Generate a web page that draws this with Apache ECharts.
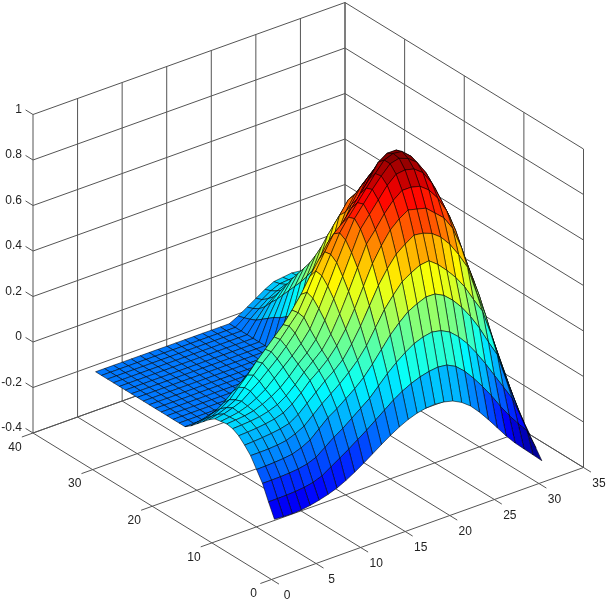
<!DOCTYPE html>
<html><head><meta charset="utf-8">
<style>html,body{margin:0;padding:0;background:#fff}#c{width:609px;height:602px}</style>
<script src="https://cdn.jsdelivr.net/npm/echarts@6/dist/echarts.min.js"></script>
</head><body><div id="c"></div>
<script>
const xTicks=[0,5,10,15,20,25,30,35];
const yTicks=[0,10,20,30,40];
const zTicks=[-0.4,-0.2,0,0.2,0.4,0.6,0.8,1];
const zY01=[-.165,-.168,-.169,-.167,-.161,-.152,-.141,-.127,-.108,-.085,-.06,-.033,-.006,.02,.043,.062,.076,.084,.087,.083,.073,.053,.023,-.018,-.065,-.115,-.165,-.21,-.25,-.29,-.33];
const zY02=[-.105,-.105,-.104,-.102,-.098,-.09,-.075,-.05,-.025,0,.028,.055,.085,.115,.145,.17,.19,.205,.215,.22,.215,.195,.16,.115,.065,.01,-.05,-.105,-.155,-.2,-.29];
const zY03=[-.04,-.04,-.039,-.037,-.033,-.025,-.01,.02,.05,.075,.105,.135,.165,.205,.245,.28,.31,.335,.35,.358,.35,.33,.295,.25,.195,.135,.07,.005,-.06,-.155,-.25];
const zY04=[.005,.006,.008,.011,.016,.03,.05,.085,.12,.145,.175,.205,.24,.285,.335,.385,.425,.46,.48,.496,.495,.475,.44,.395,.34,.275,.2,.13,.005,-.105,-.21];
const zY05=[.05,.05,.051,.054,.06,.075,.095,.13,.165,.195,.225,.26,.3,.35,.415,.48,.53,.575,.6,.62,.625,.595,.555,.51,.455,.385,.32,.2,.07,-.05,-.165];
const zY06=[.08,.082,.085,.089,.095,.105,.13,.165,.2,.235,.265,.3,.355,.42,.495,.57,.63,.68,.71,.736,.73,.715,.685,.64,.58,.51,.385,.275,.135,.01,-.115];
const zY07=[.105,.107,.11,.115,.122,.135,.16,.195,.235,.265,.3,.345,.405,.48,.565,.65,.715,.77,.805,.83,.82,.81,.775,.74,.68,.58,.455,.34,.195,.065,-.065];
const zY08=[.12,.122,.125,.13,.14,.155,.18,.215,.255,.29,.325,.38,.455,.54,.63,.72,.77,.825,.87,.9,.9,.89,.86,.81,.74,.64,.51,.395,.25,.115,-.02];
const zY09=[.125,.128,.132,.14,.155,.175,.2,.235,.275,.31,.355,.425,.505,.59,.68,.77,.82,.87,.92,.955,.96,.95,.92,.86,.775,.685,.555,.44,.295,.16,.023];
const zY10=[.12,.125,.132,.145,.165,.19,.225,.26,.295,.335,.385,.46,.545,.635,.72,.8,.85,.9,.945,.985,.995,.98,.95,.89,.81,.715,.595,.475,.33,.195,.055];
const zY11=[.115,.122,.135,.15,.18,.21,.245,.28,.32,.365,.42,.49,.575,.655,.735,.79,.84,.89,.94,.985,1,.995,.96,.9,.82,.73,.625,.495,.35,.215,.075];
const zY12=[.095,.105,.12,.14,.18,.22,.26,.295,.335,.38,.425,.5,.58,.65,.715,.75,.8,.85,.9,.96,.985,.985,.955,.9,.83,.736,.62,.496,.358,.22,.083];
const zY13=[.07,.08,.1,.125,.165,.205,.25,.29,.33,.37,.42,.475,.54,.6,.66,.69,.74,.78,.84,.9,.94,.945,.92,.87,.805,.71,.6,.48,.35,.215,.087];
const zY14=[.045,.055,.07,.095,.13,.16,.195,.23,.265,.3,.34,.385,.43,.48,.525,.6,.66,.73,.78,.85,.89,.9,.87,.825,.77,.68,.575,.46,.335,.205,.084];
const zY15=[.02,.028,.038,.05,.07,.09,.11,.125,.145,.165,.19,.215,.24,.27,.31,.37,.52,.66,.74,.8,.84,.85,.82,.77,.715,.63,.53,.425,.31,.19,.077];
const zY16=[0,0,0,0,0,0,0,0,0,0,0,0,0,0,0,0,.37,.6,.69,.75,.79,.8,.77,.72,.65,.57,.48,.385,.28,.17,.062];
const zY17=[0,0,0,0,0,0,0,0,0,0,0,0,0,0,0,0,.31,.525,.66,.715,.735,.72,.68,.63,.565,.495,.415,.335,.245,.145,.043];
const zY18=[0,0,0,0,0,0,0,0,0,0,0,0,0,0,0,0,.27,.48,.6,.65,.655,.635,.59,.54,.48,.42,.35,.285,.205,.115,.02];
const zY19=[0,0,0,0,0,0,0,0,0,0,0,0,0,0,0,0,.24,.43,.54,.58,.575,.545,.505,.455,.405,.355,.3,.24,.165,.085,-.006];
const zY20=[0,0,0,0,0,0,0,0,0,0,0,0,0,0,0,0,.215,.385,.475,.5,.49,.46,.425,.38,.345,.3,.26,.205,.135,.055,-.033];
const zY21=[0,0,0,0,0,0,0,0,0,0,0,0,0,0,0,0,.19,.34,.42,.425,.42,.385,.355,.325,.3,.265,.225,.175,.105,.028,-.06];
const zY22=[0,0,0,0,0,0,0,0,0,0,0,0,0,0,0,0,.165,.3,.37,.38,.365,.335,.31,.29,.265,.235,.195,.145,.075,0,-.085];
const zY23=[0,0,0,0,0,0,0,0,0,0,0,0,0,0,0,0,.145,.265,.33,.335,.32,.295,.275,.255,.235,.2,.165,.12,.05,-.025,-.108];
const zY24=[0,0,0,0,0,0,0,0,0,0,0,0,0,0,0,0,.125,.23,.29,.295,.28,.26,.235,.215,.195,.165,.13,.085,.02,-.05,-.127];
const zY25=[0,0,0,0,0,0,0,0,0,0,0,0,0,0,0,0,.11,.195,.25,.26,.245,.225,.2,.18,.16,.13,.095,.05,-.01,-.075,-.141];
const zY26=[0,0,0,0,0,0,0,0,0,0,0,0,0,0,0,0,.09,.16,.205,.22,.21,.19,.175,.155,.135,.105,.075,.03,-.025,-.09,-.152];
const zY27=[0,0,0,0,0,0,0,0,0,0,0,0,0,0,0,0,.07,.13,.165,.18,.18,.165,.155,.14,.122,.095,.06,.016,-.033,-.098,-.161];
const zY28=[0,0,0,0,0,0,0,0,0,0,0,0,0,0,0,0,.05,.095,.125,.14,.15,.145,.14,.13,.115,.089,.054,.011,-.037,-.102,-.167];
const zY29=[0,0,0,0,0,0,0,0,0,0,0,0,0,0,0,0,.038,.07,.1,.12,.135,.132,.132,.125,.11,.085,.051,.008,-.039,-.104,-.169];
const zY30=[0,0,0,0,0,0,0,0,0,0,0,0,0,0,0,0,.028,.055,.08,.105,.122,.125,.128,.122,.107,.082,.05,.006,-.04,-.105,-.168];
const zY31=[0,0,0,0,0,0,0,0,0,0,0,0,0,0,0,0,.02,.045,.07,.095,.115,.12,.125,.12,.105,.08,.05,.005,-.04,-.105,-.165];
const zRows=[zY01,zY02,zY03,zY04,zY05,zY06,zY07,zY08,zY09,zY10,zY11,zY12,zY13,zY14,zY15,zY16,zY17,zY18,zY19,zY20,zY21,zY22,zY23,zY24,zY25,zY26,zY27,zY28,zY29,zY30,zY31];

// orthographic view of the 3D box, mapped onto the hidden pixel axes
const view={ox:271.5,oy:579.5,xx:312/35,xy:-112/35,yx:-238.5/40,yy:-146.5/40,zy:-227.5,zBase:-0.4};
function project(x,y,z){return [view.ox+x*view.xx+y*view.yx, view.oy+x*view.xy+y*view.yy+(z-view.zBase)*view.zy];}

const zAll=zRows.flat(),zMin=Math.min(...zAll),zMax=Math.max(...zAll);
function jet(z){
  const idx=Math.min(63,Math.floor((z-zMin)/(zMax-zMin)*64)),t=(idx+.5)/64;
  const c=v=>Math.round(255*Math.max(0,Math.min(1,v)));
  return 'rgb('+c(1.5-Math.abs(4*t-3))+','+c(1.5-Math.abs(4*t-2))+','+c(1.5-Math.abs(4*t-1))+')';
}
// back-to-front cell list for the painter's order
const cells=[];
for(let i=zRows[0].length-2;i>=0;i--)for(let j=zRows.length-2;j>=0;j--)cells.push([i,j,zRows[j][i]]);

// box lines: [x1,y1,z1,x2,y2,z2]
const tick=1.25,boxLines=[],zl=zTicks[0],zh=zTicks[zTicks.length-1],xh=xTicks[xTicks.length-1],yh=yTicks[yTicks.length-1];
xTicks.forEach(x=>{boxLines.push([x,-tick,zl,x,yh,zl]);boxLines.push([x,yh,zl,x,yh,zh]);});
yTicks.forEach(y=>{boxLines.push([-tick,y,zl,xh,y,zl]);boxLines.push([xh,y,zl,xh,y,zh]);});
zTicks.forEach(z=>{boxLines.push([0,yh,z,xh,yh,z]);boxLines.push([0,yh,z,0,yh+tick,z]);boxLines.push([xh,yh,z,xh,0,z]);});

const labels=[];
zTicks.forEach(z=>labels.push([0,yh,z,String(z),-11,-5,'right']));
yTicks.forEach(y=>labels.push([0,y,zl,String(y),-18,14.5,'center']));
xTicks.forEach(x=>labels.push([x,0,zl,String(x),15.5,16.5,'center']));

const chart=echarts.init(document.getElementById('c'),null,{renderer:'canvas'});
chart.setOption({
  animation:false,
  backgroundColor:'#fff',
  grid:{left:0,right:0,top:0,bottom:0},
  xAxis:{type:'value',min:0,max:609,show:false},
  yAxis:{type:'value',min:0,max:602,inverse:true,show:false},
  series:[
    {type:'custom',silent:true,clip:false,z:1,coordinateSystem:'cartesian2d',data:boxLines,encode:{x:[],y:[]},
      renderItem(p,api){
        const a=api.coord(project(api.value(0),api.value(1),api.value(2))),b=api.coord(project(api.value(3),api.value(4),api.value(5)));
        return {type:'line',shape:{x1:a[0],y1:a[1],x2:b[0],y2:b[1]},style:{stroke:'#555',lineWidth:1}};
      }},
    {type:'custom',silent:true,clip:false,z:2,coordinateSystem:'cartesian2d',data:cells,encode:{x:[],y:[]},
      renderItem(p,api){
        const i=api.value(0),j=api.value(1);
        const pts=[[i,j],[i+1,j],[i+1,j+1],[i,j+1]].map(q=>api.coord(project(q[0]+1,q[1]+1,zRows[q[1]][q[0]])));
        return {type:'polygon',shape:{points:pts},style:{fill:jet(api.value(2)),stroke:'rgba(0,0,0,.8)',lineWidth:.7,lineJoin:'round'}};
      }},
    {type:'custom',silent:true,clip:false,z:3,coordinateSystem:'cartesian2d',data:labels.map(l=>l.slice(0,3).concat(l[4],l[5])),encode:{x:[],y:[]},
      renderItem(p,api){
        const l=labels[p.dataIndex],a=api.coord(project(l[0],l[1],l[2]));
        return {type:'text',style:{x:a[0]+l[4],y:a[1]+l[5],text:l[3],fill:'#222',fontFamily:'Liberation Sans',fontSize:12,align:l[6],verticalAlign:'middle'}};
      }}
  ]
});
</script></body></html>
